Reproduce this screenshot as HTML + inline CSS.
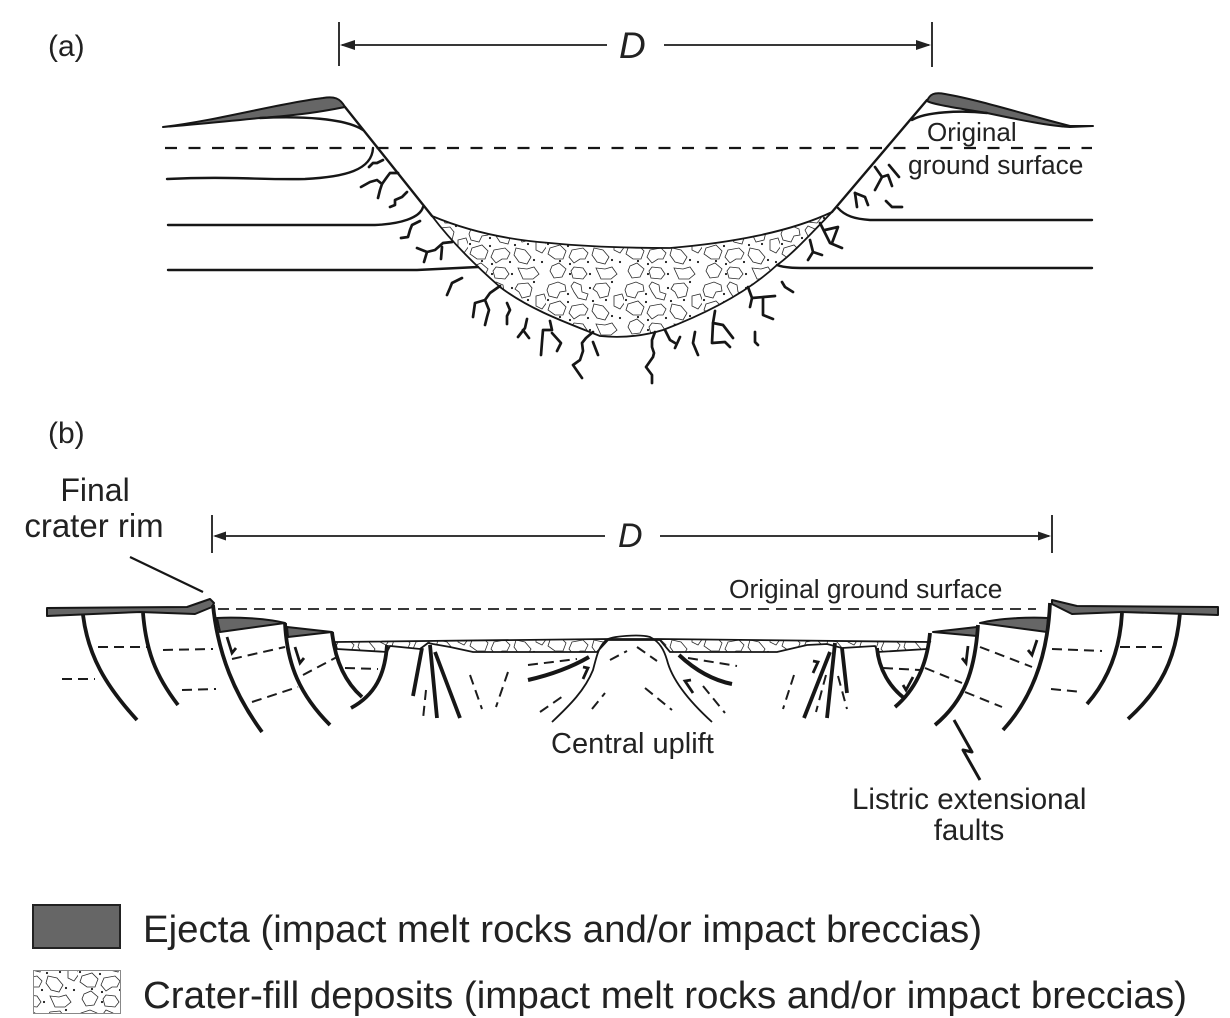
<!DOCTYPE html>
<html><head><meta charset="utf-8"><title>Crater diagram</title>
<style>
html,body{margin:0;padding:0;background:#fff}
svg{display:block}
text{font-family:"Liberation Sans",sans-serif;fill:#222}
.l{fill:none;stroke:#161616;stroke-width:2.400;stroke-linejoin:round;stroke-linecap:round}
.f{fill:none;stroke:#161616;stroke-width:2.700;stroke-linejoin:round;stroke-linecap:round}
.t{fill:none;stroke:#161616;stroke-width:3.800;stroke-linejoin:round}
.d{fill:none;stroke:#1c1c1c;stroke-width:1.800;stroke-dasharray:11 7}
.e{fill:#666;stroke:#161616;stroke-width:2;stroke-linejoin:round}
</style></head><body>
<svg width="1230" height="1018" viewBox="0 0 1230 1018" xmlns="http://www.w3.org/2000/svg">
<defs>
<pattern id="br" width="78" height="56" patternUnits="userSpaceOnUse">
<rect width="78" height="56" fill="#fff"/>
<g fill="none" stroke="#2a2a2a" stroke-width=".8">
<path d="M3 5l9-3 7 3 1 6-6 1-3 6-8-2-2-6z"/>
<path d="M28 2l7 3 1 7 6 2-2 6-8-2-4-6-3-6z"/>
<path d="M50 4l10-1 4 5-2 8-8 2-3-6-4-3z"/>
<path d="M68 16l8-2 3 8-5 7-6-3z"/>
<path d="M4 24l10-3 6 6-3 8-8 0-7-5z"/>
<path d="M26 26l11-2 5 5-3 6-5 0-6 4-5-6z"/>
<path d="M48 24l9 2 6 7-4 7-8-2-5-7z"/>
<path d="M6 42l7-3 7 6-4 8-8 1-4-7z"/>
<path d="M28 43l9 1 4 6-4 5-10-1-2-7z"/>
<path d="M50 44l9 1 7-2 5 7-6 5-10 0z"/>
</g>
<g fill="#1a1a1a">
<circle cx="22" cy="14" r="1.100"/><circle cx="44" cy="8" r="1.100"/><circle cx="66" cy="2" r="1.100"/>
<circle cx="22" cy="22" r="1.100"/><circle cx="47" cy="21" r="1.100"/><circle cx="14" cy="37" r="1.100"/>
<circle cx="42" cy="38" r="1.100"/><circle cx="66" cy="36" r="1.100"/><circle cx="2" cy="20" r="1.100"/>
<circle cx="74" cy="38" r="1.100"/><circle cx="24" cy="50" r="1.100"/><circle cx="44" cy="50" r="1.100"/>
<circle cx="60" cy="20" r="1.100"/><circle cx="24" cy="40" r="1.100"/>
</g>
</pattern>
</defs>

<!-- D arrows -->
<g stroke="#1c1c1c" stroke-width="1.800" fill="#222">
<line x1="339" y1="22" x2="339" y2="66"/><line x1="932" y1="22" x2="932" y2="67"/>
<line x1="342" y1="45" x2="607" y2="45"/><line x1="664" y1="45" x2="929" y2="45"/>
<line x1="212" y1="515" x2="212" y2="553"/><line x1="1052" y1="515" x2="1052" y2="553"/>
<line x1="215" y1="536" x2="605" y2="536"/><line x1="660" y1="536" x2="1049" y2="536"/>
</g>
<g fill="#222">
<path d="M340 45l15-5v10z"/><path d="M931 45l-15-5v10z"/>
<path d="M213 536l13-4.500v9z"/><path d="M1051 536l-13-4.500v9z"/>
</g>
<text x="48" y="56" font-size="30">(a)</text>
<text x="48" y="443" font-size="30">(b)</text>
<text x="619" y="58" font-size="37" font-style="italic">D</text>
<text x="618" y="547" font-size="34" font-style="italic">D</text>

<!-- Panel a: crater fill -->
<path d="M432 216C470 232 510 240 550 243C590 247 630 248 670 248C730 243 790 232 832 212C805 240 790 256 777 265C750 290 710 312 663 330C640 337 620 338 600 336C570 324 530 310 500 287C475 265 450 240 432 216Z" fill="url(#br)" stroke="#161616" stroke-width="1.800"/>

<!-- Panel a: walls -->
<path class="l" d="M345 107L432 216"/>
<path class="l" d="M832 212L927 100"/>
<path class="e" d="M163 127C220 120 280 103 323 98C334 96 340 98 345 107C320 112 300 115 260 118C220 122 190 125 163 127Z"/>
<path class="e" d="M1093 126L1070 126C1030 116 980 100 945 94C934 92 930 94 927 101C932 104 950 107 987 113C1020 120 1050 126 1070 127Z"/>
<path class="l" d="M260 118C300 116 345 118 363 130"/>
<path class="l" d="M912 120C925 112 960 110 987 113"/>
<path class="l" d="M167 179C230 176 260 180 305 179C345 177 372 170 373 148"/>
<path class="l" d="M168 225H375C400 224 420 218 423 207"/>
<path class="l" d="M168 270L417 270C440 269 460 268 478 267"/>
<path class="l" d="M838 208C845 216 855 219 870 220L1092 220"/>
<path class="l" d="M777 265C785 268 795 268 810 268L1092 268"/>
<line x1="165" y1="148" x2="1092" y2="148" stroke="#161616" stroke-width="2.200" stroke-dasharray="12 11.500"/>

<!-- Panel a: fractures -->
<g class="f">
<polyline points="369,167 373,163 377,163 383,160"/>
<polyline points="361,187 370,182 377,180 382,184 387,177 390,173 398,173"/><polyline points="382,184 380,190 378,198"/>
<polyline points="390,207 395,205 395,200 402,197 407,192"/>
<polyline points="401,238 408,237 410,230 412,225 420,221"/>
<polyline points="417,248 427,252 435,250 443,243 452,242"/><polyline points="427,252 424,262"/><polyline points="442,247 441,259"/>
<polyline points="447,295 450,288 452,283 462,278"/>
<polyline points="500,286 490,293 485,300 475,303 473,317"/><polyline points="485,300 489,310 487,317 485,325"/>
<polyline points="507,303 510,310 507,316 507,324"/>
<polyline points="527,319 525,328 518,337"/><polyline points="523,330 529,338"/>
<polyline points="550,321 552,330 543,330 542,342 541,355"/><polyline points="552,333 561,343 557,351"/>
<polyline points="593,332 586,338 582,343 583,351 580,360 573,365 582,378"/><polyline points="593,342 598,355"/>
<polyline points="655,332 652,340 652,347 654,353 653,357 646,367 652,375 652,383"/>
<polyline points="665,330 670,340 675,343"/><polyline points="680,337 675,348"/>
<polyline points="695,332 693,343 698,355"/>
<polyline points="715,311 713,323 723,325 733,338"/><polyline points="713,323 712,343 725,342 730,347"/>
<polyline points="755,332 755,342 758,345"/>
<polyline points="748,287 752,298 775,296"/><polyline points="752,298 750,307"/><polyline points="763,298 763,315 773,319"/>
<polyline points="782,282 785,287 793,292"/>
<polyline points="810,240 813,252 808,260"/><polyline points="813,252 822,255"/>
<polyline points="820,223 830,243 842,248"/><polyline points="825,230 838,227 832,243"/>
<polyline points="855,193 857,207"/><polyline points="855,193 865,197 868,205"/>
<polyline points="875,167 882,177 875,190"/><polyline points="882,177 888,175 892,186"/>
<polyline points="889,165 899,177"/>
<polyline points="886,201 892,207 902,207"/>
</g>
<text x="927" y="141" font-size="26">Original</text>
<text x="908" y="174" font-size="26.300">ground surface</text>

<!-- Panel b: labels -->
<text x="95" y="501" font-size="32" text-anchor="middle">Final</text>
<text x="94" y="537" font-size="33" text-anchor="middle">crater rim</text>
<line x1="130" y1="557" x2="203" y2="592" stroke="#161616" stroke-width="2.200"/>
<text x="729" y="598" font-size="26.300">Original ground surface</text>
<line x1="218" y1="609" x2="1036" y2="609" class="d"/>

<!-- Panel b: crater fill -->
<path d="M335 642L607 639L658 639L930 642L927 649L878 652L875 646L842 648L827 644L807 645L777 652L670 652L660 640L608 640L597 652L473 652L450 647L433 644L428 643L420 649L390 646L387 652L337 649Z" fill="url(#br)" stroke="#161616" stroke-width="1.800"/>

<!-- Panel b: ejecta -->
<path class="e" d="M47 608L187 607L210 599L214 603L212 607L195 614L140 612L47 616Z"/>
<path class="e" d="M217 618C235 617 265 618 285 623L220 632Z"/>
<path class="e" d="M287 627L332 632L288 637Z"/>
<path class="e" d="M1052 600L1077 606L1218 607V615L1122 612L1072 614L1052 604Z"/>
<path class="e" d="M980 623C1000 618 1030 617 1048 618L1047 632Z"/>
<path class="e" d="M933 632L977 627V636Z"/>

<!-- Panel b: listric faults -->
<g class="t">
<path d="M83 615C88 655 105 685 137 720"/>
<path d="M143 613C146 650 155 675 178 705"/>
<path d="M213 605C218 655 235 695 262 732"/>
<path d="M285 623C287 665 300 695 330 725"/>
<path d="M332 632C335 660 345 682 362 697"/>
<path d="M387 645C385 675 375 695 351 708"/>
<path d="M1050 603C1048 650 1035 695 1003 730"/>
<path d="M978 625C975 670 965 700 935 725"/>
<path d="M930 633C927 665 915 690 895 707"/>
<path d="M877 648C879 670 890 687 904 698"/>
<path d="M1122 613C1120 650 1108 680 1087 704"/>
<path d="M1180 613C1176 660 1160 690 1128 719"/>
<path d="M422 648L413 696M430 645L437 718M435 652L460 718"/>
<path d="M830 652L804 718M835 643L827 718M842 648L847 693"/>
<path d="M589 657C570 668 550 675 528 680" stroke-width="4"/>
<path d="M679 655C695 670 712 680 732 684" stroke-width="4"/>
<path d="M954 720L972 752L963 750L980 780" stroke-width="3"/>
</g>

<!-- Central uplift -->
<path fill="none" stroke="#161616" stroke-width="1.800" d="M552 722C570 705 585 690 593 670C597 655 598 648 606 640C612 636 640 634 650 637C660 642 664 650 667 660C672 680 690 702 712 722"/>

<!-- Panel b: dashed strata -->
<g fill="none" stroke="#1c1c1c" stroke-width="2" stroke-dasharray="10 6">
<path d="M98 647H147"/><path d="M163 650L213 649"/><path d="M62 679H95"/><path d="M182 690L216 689"/>
<path d="M232 659L285 647"/><path d="M252 702L298 687"/><path d="M303 675L337 657"/><path d="M345 668L378 669"/>
<path d="M426 690L423 719"/><path d="M528 665L577 659"/><path d="M470 675L482 709"/><path d="M508 672L496 707"/>
<path d="M610 660L627 651"/><path d="M637 647L657 661"/><path d="M540 712L566 694"/><path d="M592 709L605 693"/>
<path d="M645 688L672 710"/><path d="M688 658L737 666"/><path d="M703 686L725 713"/>
<path d="M794 675L783 709"/><path d="M826 675L816 712"/><path d="M838 676L847 709"/>
<path d="M883 668L920 670"/><path d="M925 668L962 683"/><path d="M965 692L1002 707"/><path d="M980 647L1032 667"/>
<path d="M1052 649L1102 651"/><path d="M1120 647H1167"/><path d="M1051 689L1082 692"/>
</g>

<!-- Panel b: slip arrows -->
<g fill="none" stroke="#161616" stroke-width="2.800">
<path d="M227 637L232 653L236 648"/>
<path d="M295 647L300 663L304 658"/>
<path d="M583 679L588 668L583 667"/>
<path d="M693 693L685 681L691 680"/>
<path d="M813 673L818 662L813 661"/>
<path d="M1037 640L1032 655L1028 650"/>
<path d="M968 646L966 663L962 658"/>
<path d="M913 677L906 690L903 685"/>
</g>

<text x="551" y="753" font-size="29">Central uplift</text>
<text x="852" y="809" font-size="29.500">Listric extensional</text>
<text x="969" y="840" font-size="29.500" text-anchor="middle">faults</text>

<!-- Legend -->
<rect x="33" y="905" width="87" height="43" fill="#666" stroke="#222" stroke-width="2"/>
<rect x="33.500" y="970.500" width="87" height="43" fill="url(#br)" stroke="#888" stroke-width="1"/>
<text x="143" y="942" font-size="38" textLength="839" lengthAdjust="spacingAndGlyphs">Ejecta (impact melt rocks and/or impact breccias)</text>
<text x="143" y="1008" font-size="38" textLength="1044" lengthAdjust="spacingAndGlyphs">Crater-fill deposits (impact melt rocks and/or impact breccias)</text>
</svg>
</body></html>
